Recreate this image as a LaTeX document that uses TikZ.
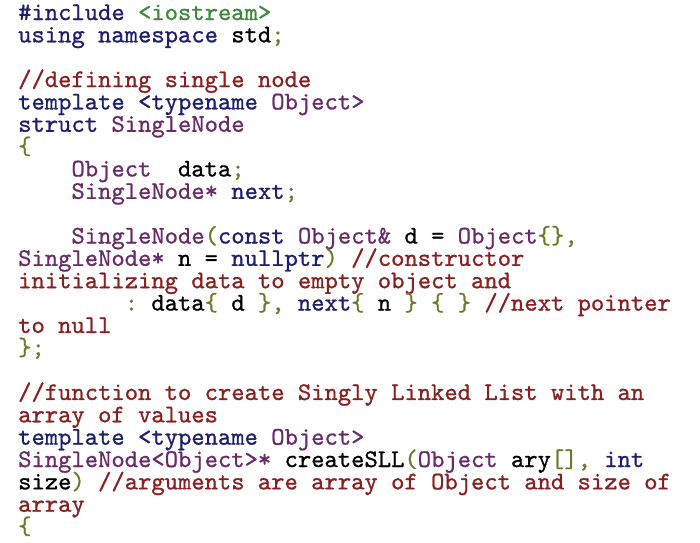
\documentclass[tikz,border=0pt]{standalone}
\usepackage{fontspec}
\setmonofont{lmmono10-regular.otf}[FakeBold=0.9]
\definecolor{kw}{HTML}{1E1E6E}
\definecolor{cm}{HTML}{8A1F1F}
\definecolor{ty}{HTML}{6A2A6A}
\definecolor{pu}{HTML}{6E7A2A}
\definecolor{st}{HTML}{3A8A3A}
\newcommand{\Kw}[1]{\textcolor{kw}{#1}}
\newcommand{\Cm}[1]{\textcolor{cm}{#1}}
\newcommand{\Ty}[1]{\textcolor{ty}{#1}}
\newcommand{\Pu}[1]{\textcolor{pu}{#1}}
\newcommand{\St}[1]{\textcolor{st}{#1}}
\tikzset{codeline/.style={anchor=base west,inner sep=0pt,font=\ttfamily\fontsize{25.37}{22.35}\selectfont,text=black}}
\begin{document}
\begin{tikzpicture}[x=1pt,y=-1pt]
\useasboundingbox (0,0) rectangle (700,542);
\def\cw{13.32}
\def\lh{22.35}
\def\by{20}
\newcommand{\codeln}[3]{\node[codeline] (l#1) at ({18+#2*\cw},{\by+#1*\lh}) {#3};}
\codeln{0}{0}{\Kw{\#include} \St{<iostream>}}
\codeln{1}{0}{\Kw{using namespace} std\Pu{;}}
\codeln{3}{0}{\Cm{//defining single node}}
\codeln{4}{0}{\Kw{template <typename} \Ty{Object>}}
\codeln{5}{0}{\Kw{struct} \Ty{SingleNode}}
\codeln{6}{0}{\Pu{\{}}
\codeln{7}{4}{\Ty{Object}\ \ data\Pu{;}}
\codeln{8}{4}{\Ty{SingleNode*} \Kw{next}\Pu{;}}
\codeln{10}{4}{\Ty{SingleNode}\Pu{(}\Kw{const} \Ty{Object\&} d = \Ty{Object}\Pu{\{\},}}
\codeln{11}{0}{\Ty{SingleNode*} n = \Kw{nullptr}\Pu{)} \Cm{//constructor}}
\codeln{12}{0}{\Cm{initializing data to empty object and}}
\codeln{13}{8}{\Pu{:} data\Pu{\{} d \Pu{\},} \Kw{next}\Pu{\{} n \Pu{\}} \Pu{\{ \}} \Cm{//next pointer}}
\codeln{14}{0}{\Cm{to null}}
\codeln{15}{0}{\Pu{\};}}
\codeln{17}{0}{\Cm{//function to create Singly Linked List with an}}
\codeln{18}{0}{\Cm{array of values}}
\codeln{19}{0}{\Kw{template <typename} \Ty{Object>}}
\codeln{20}{0}{\Ty{SingleNode<Object>*} createSLL\Pu{(}\Ty{Object} ary\Pu{[],} \Kw{int}}
\codeln{21}{0}{size\Pu{)} \Cm{//arguments are array of Object and size of}}
\codeln{22}{0}{\Cm{array}}
\codeln{23}{0}{\Pu{\{}}
\end{tikzpicture}
\end{document}
